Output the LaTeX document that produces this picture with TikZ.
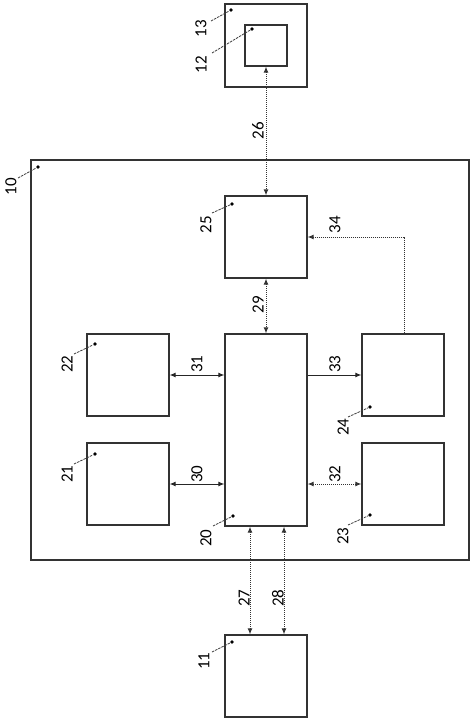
\documentclass[tikz,border=0pt]{standalone}
\usepackage{fontspec}
\setmainfont{Carlito}
\usetikzlibrary{arrows.meta}
\begin{document}
\begin{tikzpicture}[x=1pt,y=-1pt,
  blk/.style={draw=black!80,line width=1.3pt,inner sep=0pt,minimum width=82pt,minimum height=82pt},
  lab/.style={rotate=90,inner sep=0pt,font=\fontsize{17}{19}\selectfont},
  leader/.style={draw=black!75,line width=0.8pt,dash pattern=on 2.5pt off 1pt},
  dotc/.style={draw=black!80,line width=1pt,dash pattern=on 1pt off 1pt},
  solc/.style={draw=black!85,line width=1pt},
  tip/.style={-{Latex[length=6pt,width=5pt]}},
  tips/.style={{Latex[length=6pt,width=5pt]}-{Latex[length=6pt,width=5pt]}},
  pt/.style={fill=black,circle,inner sep=0pt,minimum size=3.6pt}
]
\useasboundingbox (0,0) rectangle (474,722);
\fill[white] (0,0) rectangle (474,722);
% boxes
\node[blk,minimum width=82pt,minimum height=83pt] (b13) at (266,45.5) {};
\node[blk,minimum width=42pt,minimum height=41pt] (b12) at (266,45.5) {};
\node[blk,minimum width=438pt,minimum height=400pt] (b10) at (250,360) {};
\node[blk] (b25) at (266,237) {};
\node[blk,minimum height=192pt] (b20) at (266,430) {};
\node[blk] (b22) at (128,375) {};
\node[blk] (b21) at (128,484) {};
\node[blk] (b24) at (403,375) {};
\node[blk] (b23) at (403,484) {};
\node[blk] (b11) at (266,676) {};
% connectors
\draw[dotc,tips] (b12.south) -- (b25.north);
\draw[dotc,tips] (b25.south) -- (b20.north);
\draw[solc,tips] (b22.east) -- (b22.east -| b20.west);
\draw[solc,tips] (b21.east) -- (b21.east -| b20.west);
\draw[solc,tip] (b24.west -| b20.east) -- (b24.west);
\draw[dotc,tips] (b23.west -| b20.east) -- (b23.west);
\coordinate (c34) at (404,237);
\draw[dotc,tip] (b24.north -| c34) -- (c34) -- (b25.east);
\coordinate (x27) at (250,0);
\coordinate (x28) at (284,0);
\draw[dotc,tips] (b20.south -| x27) -- (b11.north -| x27);
\draw[dotc,tips] (b20.south -| x28) -- (b11.north -| x28);
% connector labels
\node[lab] (t26) at (258,131) {26};
\node[lab] (t29) at (258,305) {29};
\node[lab] (t34) at (335,225) {34};
\node[lab] (t31) at (197,364) {31};
\node[lab] (t30) at (197,474) {30};
\node[lab] (t33) at (335,364) {33};
\node[lab] (t32) at (335,474) {32};
\node[lab] (t27) at (244,598) {27};
\node[lab] (t28) at (278,598) {28};
% reference labels with leaders
\node[lab] (t13) at (201,29) {13};
\node[pt] (d13) at (231,10) {};
\coordinate (s13) at (211,21);
\draw[leader] (s13) -- (d13);
\node[lab] (t12) at (201,65) {12};
\node[pt] (d12) at (252,29) {};
\coordinate (s12) at (212,53);
\draw[leader] (s12) -- (d12);
\node[lab] (t10) at (11,187) {10};
\node[pt] (d10) at (38,167) {};
\coordinate (s10) at (18,178);
\draw[leader] (s10) -- (d10);
\node[lab] (t25) at (206,225) {25};
\node[pt] (d25) at (232,204) {};
\coordinate (s25) at (212,213);
\draw[leader] (s25) -- (d25);
\node[lab] (t22) at (67,364) {22};
\node[pt] (d22) at (95,344) {};
\coordinate (s22) at (74,354);
\draw[leader] (s22) -- (d22);
\node[lab] (t21) at (67,474) {21};
\node[pt] (d21) at (95,454) {};
\coordinate (s21) at (74,464);
\draw[leader] (s21) -- (d21);
\node[lab] (t20) at (206,538) {20};
\node[pt] (d20) at (233,516) {};
\coordinate (s20) at (213,526);
\draw[leader] (s20) -- (d20);
\node[lab] (t24) at (343,427) {24};
\node[pt] (d24) at (370,407) {};
\coordinate (s24) at (348,417);
\draw[leader] (s24) -- (d24);
\node[lab] (t23) at (343,536) {23};
\node[pt] (d23) at (370,515) {};
\coordinate (s23) at (348,525);
\draw[leader] (s23) -- (d23);
\node[lab] (t11) at (204,661) {11};
\node[pt] (d11) at (232,642) {};
\coordinate (s11) at (212,652);
\draw[leader] (s11) -- (d11);
\end{tikzpicture}
\end{document}
